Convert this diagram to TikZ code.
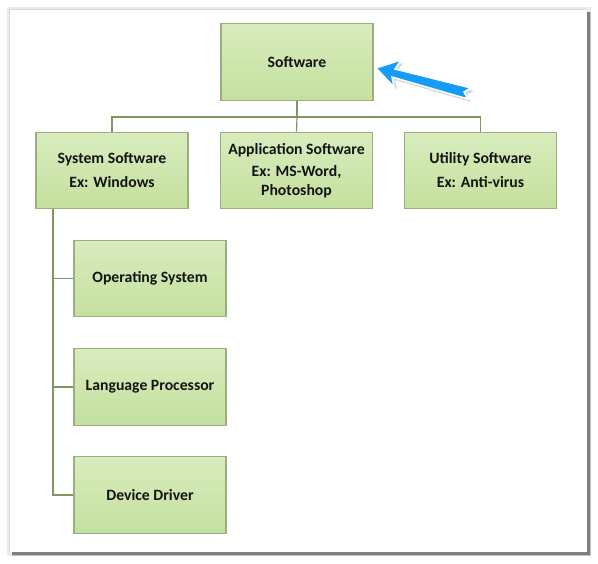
\documentclass[tikz,border=0pt]{standalone}
\usepackage{fontspec}
\setmainfont{Carlito}
\usetikzlibrary{calc}
\definecolor{boxtop}{HTML}{D8ECBE}
\definecolor{boxbot}{HTML}{C4E09E}
\definecolor{boxline}{HTML}{9BAF7E}
\definecolor{conn}{HTML}{7E9660}
\definecolor{arrblue}{HTML}{149CF8}
\tikzset{
  box/.style={draw=boxline, line width=0.9pt, top color=boxtop, bottom color=boxbot,
    minimum width=114pt, minimum height=57.5pt, inner sep=0pt, align=center,
    font=\bfseries\fontsize{11.8pt}{14.5pt}\selectfont, text=black!92},
  wire/.style={draw=conn, line width=0.9pt}
}
\begin{document}
\begin{tikzpicture}[x=0.75pt,y=-0.75pt]
\useasboundingbox (0,0) rectangle (598,563);
\fill[white] (0,0) rectangle (598,563);
% frame with shadow
\fill[black!8] (7,7) rectangle (591,556);
\fill[black!25] (12,12) rectangle (591,556);
\fill[black!50] (12,12) rectangle (590,555);
\fill[white] (9,9) rectangle (587,552);
\draw[black!15, line width=0.4pt] (9,552) -- (9,9) -- (587,9);
% nodes
\node[box] (soft) at (297,62) {Software};
\node[box] (sys) at (112,170.5) {System Software\\[3.5pt]Ex: Windows};
\node[box] (app) at (296.5,170.5) {Application Software\\[2pt]Ex: MS-Word,\\Photoshop};
\node[box] (util) at (480.5,170.5) {Utility Software\\[3.5pt]Ex: Anti-virus};
\node[box] (os) at (150,278.5) {Operating System};
\node[box] (lp) at (150,387) {Language Processor};
\node[box] (dd) at (150,495) {Device Driver};
\coordinate (bus) at (297,117);
\coordinate (trunk) at (53,209);
% connectors
\draw[wire] (soft.south) -- (bus);
\draw[wire] (sys.north) |- (bus) -| (util.north);
\draw[wire] (bus) -- (app.north);
\draw[wire] (trunk) |- (os.west);
\draw[wire] (trunk) |- (lp.west);
\draw[wire] (trunk) |- (dd.west);
% blue arrow
\coordinate (tip) at (376,68);
\fill[black!25, opacity=0.6] ($(tip)+(2,3)$) -- (403,63) -- (397,72) -- (474,91) -- (467,95) -- (471,102) -- (395,80) -- (397,90) -- cycle;
\filldraw[fill=arrblue, draw=white, line width=1.1pt, line join=miter]
  (tip) -- (401,60) -- (395,69) -- (471,88) -- (464,92) -- (468,99) -- (392,77) -- (394,87) -- cycle;
\end{tikzpicture}
\end{document}
